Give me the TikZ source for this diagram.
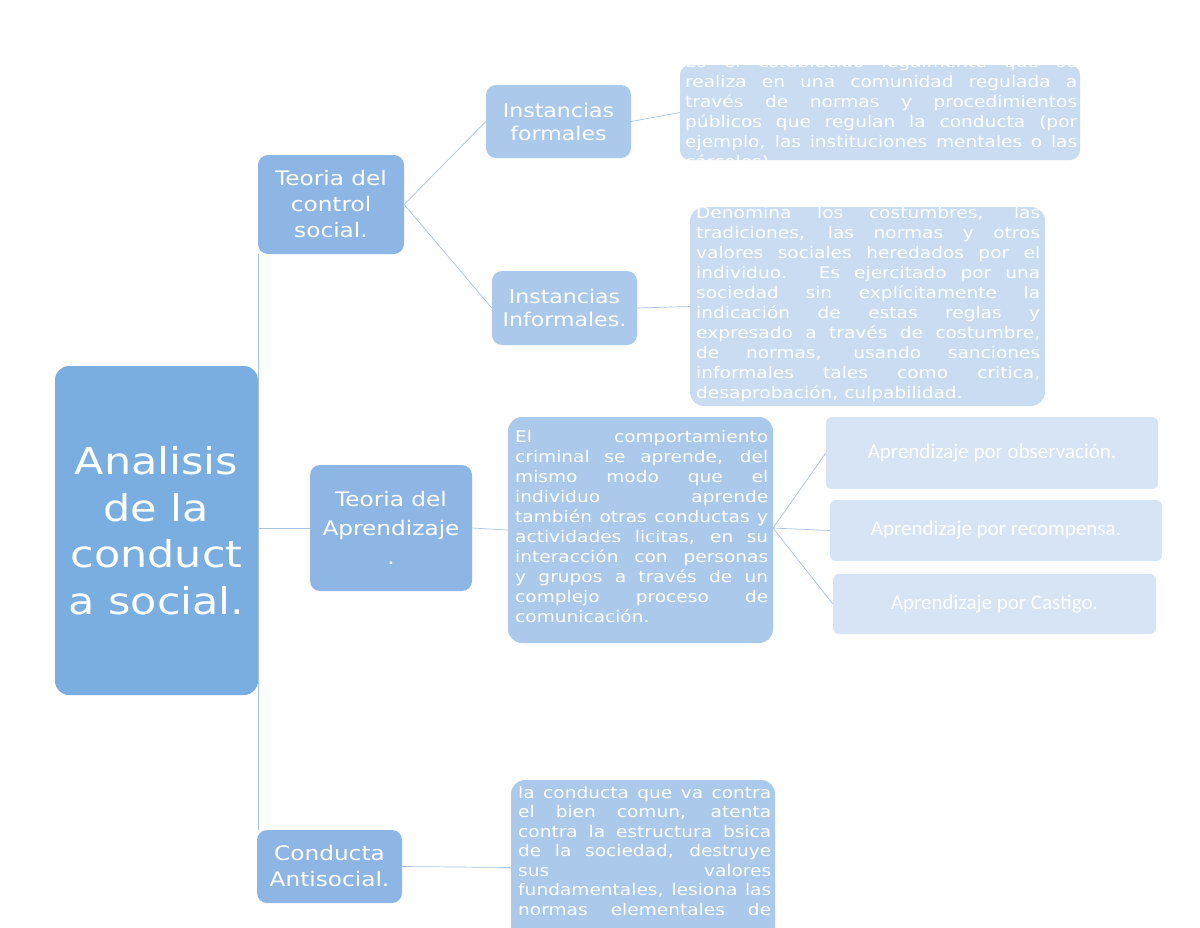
\documentclass[tikz,border=0pt]{standalone}
\usepackage{fontspec}
\setmainfont[FakeStretch=1.16]{DejaVu Sans}
\newfontfamily\carlfont{Carlito}
\definecolor{lc}{HTML}{A9C4E4}
\definecolor{cmain}{HTML}{7AAEE0}
\definecolor{cmid}{HTML}{8DB6E4}
\definecolor{clt}{HTML}{ABC9EA}
\definecolor{ctx}{HTML}{C9DCF2}
\definecolor{cpale}{HTML}{D6E4F5}
\newlength\jw
\newcommand\jl[1]{\makebox[\jw][s]{#1}\\}
\tikzset{
 bx/.style={draw=none,rounded corners=10pt,inner sep=0pt},
 ln/.style={draw=lc,line width=0.7pt},
 wt/.style={text=white,inner sep=0pt,align=center},
 jt/.style={text=white,inner sep=0pt,anchor=north west,align=left,font=\fontsize{16}{20}\selectfont},
}
\begin{document}
\begin{tikzpicture}[x=1pt,y=-1pt]
\clip (0,0) rectangle (1200,927);
\fill[white] (0,0) rectangle (1200,927);
% connectors
\coordinate (t2) at (258,528);
\draw[ln] (258,254) -- (258,830);
\draw[ln] (t2) -- (310,528);
% boxes
\node[bx,fill=cmain,minimum width=203,minimum height=329,rounded corners=14pt] (main) at (156.5,530.5) {};
\node[bx,fill=cmid,minimum width=146,minimum height=99] (ctrl) at (331,204.5) {};
\node[bx,fill=clt,minimum width=145,minimum height=73] (form) at (558.5,121.5) {};
\node[bx,fill=clt,minimum width=145,minimum height=74] (inf) at (564.5,308) {};
\node[bx,fill=ctx,minimum width=400,minimum height=95] (tx1) at (880,112.5) {};
\node[bx,fill=ctx,minimum width=355,minimum height=199,rounded corners=14pt] (tx2) at (867.5,306.5) {};
\node[bx,fill=cmid,minimum width=162,minimum height=126] (apr) at (391,528) {};
\node[bx,fill=clt,minimum width=265,minimum height=226,rounded corners=14pt] (tx3) at (640.5,530) {};
\node[bx,fill=cpale,minimum width=332,minimum height=72,rounded corners=6pt] (b1) at (992,453) {};
\node[bx,fill=cpale,minimum width=332,minimum height=61,rounded corners=6pt] (b2) at (996,530.5) {};
\node[bx,fill=cpale,minimum width=323,minimum height=60,rounded corners=6pt] (b3) at (994.5,604) {};
\node[bx,fill=cmid,minimum width=145,minimum height=73] (anti) at (329.5,866.5) {};
\node[bx,fill=clt,minimum width=264,minimum height=175,rounded corners=14pt] (tx4) at (643,867.5) {};
% links
\draw[ln] (ctrl.east) -- (form.west);
\draw[ln] (ctrl.east) -- (inf.west);
\draw[ln] (form.east) -- (tx1.west);
\draw[ln] (inf.east) -- (tx2.west);
\draw[ln] (apr.east) -- (tx3.west);
\coordinate (hub) at (773,528);
\draw[ln] (hub) -- (b1.west);
\draw[ln] (hub) -- (b2.west);
\draw[ln] (hub) -- (b3.west);
\draw[ln] (anti.east) -- (tx4.west);
% texts
\node[wt,font=\fontsize{37}{46.5}\selectfont] at (main) {Analisis\\de la\\conduct\\a social.};
\node[wt,font=\fontsize{20}{26}\selectfont] at (ctrl) {Teoria del\\control\\social.};
\node[wt,font=\fontsize{19}{23}\selectfont] at (form) {Instancias\\formales};
\node[wt,font=\fontsize{19}{23}\selectfont] at (inf) {Instancias\\Informales.};
\node[wt,font=\fontsize{20}{29}\selectfont] at (391,528) {Teoria del\\Aprendizaje\\.};
\node[wt,font=\fontsize{20}{26}\selectfont] at (anti) {Conducta\\Antisocial.};
\node[wt,font=\carlfont\fontsize{21}{24}\selectfont] at (b1) {Aprendizaje por observación.};
\node[wt,font=\carlfont\fontsize{21}{24}\selectfont] at (b2) {Aprendizaje por recompensa.};
\node[wt,font=\carlfont\fontsize{21}{24}\selectfont] at (b3) {Aprendizaje por Castigo.};
\begin{scope}
\clip (680,65) rectangle (1080,160);
\setlength\jw{392pt}
\node[jt] (j1) at (685,55) {\jl{Es el establecido legalmente que se}\jl{realiza en una comunidad regulada a}\jl{través de normas y procedimientos}\jl{públicos que regulan la conducta (por}\jl{ejemplo, las instituciones mentales o las}cárceles).};
\end{scope}
\setlength\jw{344pt}
\node[jt] (j2) at (696,206) {\jl{Denomina los costumbres, las}\jl{tradiciones, las normas y otros}\jl{valores sociales heredados por el}\jl{individuo. Es ejercitado por una}\jl{sociedad sin explícitamente la}\jl{indicación de estas reglas y}\jl{expresado a través de costumbre,}\jl{de normas, usando sanciones}\jl{informales tales como critica,}desaprobación, culpabilidad.};
\setlength\jw{253pt}
\node[jt] (j3) at (515,430) {\jl{El comportamiento}\jl{criminal se aprende, del}\jl{mismo modo que el}\jl{individuo aprende}\jl{también otras conductas y}\jl{actividades licitas, en su}\jl{interacción con personas}\jl{y grupos a través de un}\jl{complejo proceso de}comunicación.};
\node[jt,font=\fontsize{16}{19.5}\selectfont] (j4) at (518,786) {\jl{la conducta que va contra}\jl{el bien comun, atenta}\jl{contra la estructura bsica}\jl{de la sociedad, destruye}\jl{sus valores}\jl{fundamentales, lesiona las}\makebox[\jw][s]{normas elementales de}};
\end{tikzpicture}
\end{document}
